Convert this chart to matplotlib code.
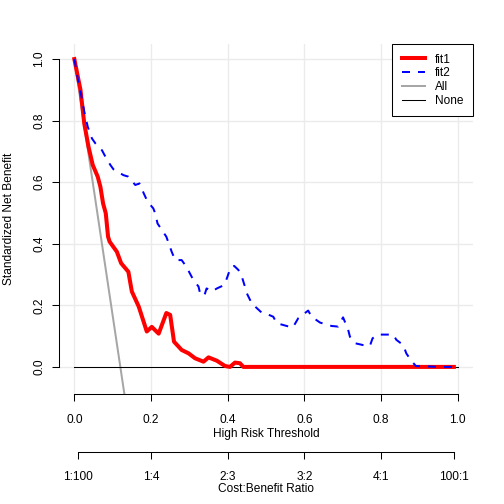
import matplotlib
matplotlib.use("Agg")
import matplotlib.pyplot as plt
import numpy as np

plt.rcParams['font.family'] = ['Liberation Sans', 'DejaVu Sans']

# thresholds / standardized net benefit
fit1_t = [0.0, 0.016, 0.026, 0.037, 0.048, 0.061, 0.068, 0.075, 0.082, 0.088, 0.092,
          0.111, 0.122, 0.141, 0.150, 0.168, 0.189, 0.202, 0.220, 0.240, 0.250,
          0.260, 0.280, 0.298, 0.315, 0.337, 0.350, 0.372, 0.393, 0.406, 0.419,
          0.432, 0.441, 0.6, 0.8, 0.99]
fit1_v = [1.0, 0.90, 0.79, 0.715, 0.656, 0.618, 0.585, 0.531, 0.499, 0.423, 0.407,
          0.374, 0.337, 0.309, 0.245, 0.196, 0.115, 0.130, 0.108, 0.175, 0.169,
          0.082, 0.055, 0.044, 0.028, 0.017, 0.031, 0.020, 0.003, 0.0, 0.014,
          0.012, 0.0, 0.0, 0.0, 0.0]

fit2_t = [0.0, 0.009, 0.017, 0.026, 0.035, 0.046, 0.055, 0.072, 0.081, 0.094, 0.102,
          0.128, 0.141, 0.159, 0.170, 0.181, 0.191, 0.206, 0.211, 0.217, 0.224,
          0.240, 0.246, 0.254, 0.263, 0.280, 0.292, 0.306, 0.311, 0.324, 0.328,
          0.339, 0.345, 0.359, 0.372, 0.391, 0.398, 0.408, 0.417, 0.428, 0.437,
          0.445, 0.450, 0.463, 0.489, 0.502, 0.519, 0.528, 0.554, 0.570, 0.584,
          0.610, 0.619, 0.641, 0.671, 0.688, 0.701, 0.714, 0.719, 0.732, 0.753,
          0.771, 0.778, 0.792, 0.814, 0.832, 0.840, 0.858, 0.866, 0.879, 0.891,
          0.95, 0.99]
fit2_v = [1.0, 0.937, 0.889, 0.829, 0.780, 0.742, 0.726, 0.704, 0.683, 0.656, 0.642,
          0.623, 0.618, 0.591, 0.596, 0.564, 0.537, 0.515, 0.499, 0.466, 0.453,
          0.423, 0.402, 0.374, 0.347, 0.347, 0.326, 0.293, 0.282, 0.261, 0.239,
          0.231, 0.255, 0.245, 0.255, 0.266, 0.288, 0.324, 0.328, 0.315, 0.293,
          0.261, 0.239, 0.206, 0.176, 0.172, 0.163, 0.142, 0.133, 0.128, 0.158,
          0.183, 0.163, 0.144, 0.133, 0.131, 0.161, 0.122, 0.098, 0.077, 0.071,
          0.068, 0.093, 0.105, 0.105, 0.105, 0.088, 0.071, 0.044, 0.020, 0.003,
          0.0, 0.0]

all_t = [0.0, 0.132]
all_v = [1.0, -0.10]
none_t = [0.0, 1.0]
none_v = [0.0, 0.0]

x_ticks = [0.0, 0.2, 0.4, 0.6, 0.8, 1.0]
y_ticks = [0.0, 0.2, 0.4, 0.6, 0.8, 1.0]
cb_ticks = [1 / 101, 0.2, 0.4, 0.6, 0.8, 100 / 101]
cb_labels = ['1:100', '1:4', '2:3', '3:2', '4:1', '100:1']

W = H = 504
fig = plt.figure(figsize=(5.04, 5.04), dpi=100)
L, R, T, B = 59, 473, 44, 394
ax = fig.add_axes([L / W, (H - B) / H, (R - L) / W, (B - T) / H])
ax.set_xlim(-0.04, 1.04)
ax.set_ylim(-0.088, 1.049)

for g in x_ticks:
    ax.axvline(g, color='#EBEBEB', lw=1.0, zorder=0)
for g in y_ticks:
    ax.axhline(g, color='#EBEBEB', lw=1.0, zorder=0)

ax.plot(all_t, all_v, color='#A6A6A6', lw=1.44, label='All', zorder=2)
ax.plot(none_t, none_v, color='black', lw=0.75, label='None', zorder=2)
ax.plot(fit1_t, fit1_v, color='red', lw=2.9, label='fit1', zorder=3,
        solid_joinstyle='round')
ax.plot(fit2_t, fit2_v, color='blue', lw=1.44, ls=(0, (4, 4)), label='fit2', zorder=4)

for s in ['top', 'right']:
    ax.spines[s].set_visible(False)
ax.spines['left'].set_bounds(0, 1)
ax.spines['bottom'].set_bounds(0, 1)
ax.spines['left'].set_linewidth(0.75)
ax.spines['bottom'].set_linewidth(0.75)
ax.set_xticks(x_ticks)
ax.set_xticklabels(['%.1f' % v for v in x_ticks])
ax.set_yticks(y_ticks)
ax.set_yticklabels(['%.1f' % v for v in y_ticks], rotation=90, va='center')
ax.tick_params(direction='out', length=5, width=0.75, labelsize=8.6)
ax.tick_params(axis='x', pad=9.5)
ax.tick_params(axis='y', pad=5)

ax.set_xlabel('High Risk Threshold', fontsize=8.6, va='center')
ax.xaxis.set_label_coords(0.5, -(434 - B) / (B - T))
ax.set_ylabel('Standardized Net Benefit', fontsize=8.6, va='center')
ax.yaxis.set_label_coords(-(L - 9) / (R - L), 0.5)

h, lab = ax.get_legend_handles_labels()
order = [lab.index(n) for n in ['fit1', 'fit2', 'All', 'None']]
leg = ax.legend([h[i] for i in order], [lab[i] for i in order],
                loc='upper right', bbox_to_anchor=(1.0, 1.0), borderaxespad=0,
                fontsize=8.6, fancybox=False, framealpha=1, edgecolor='black',
                handlelength=2.0, handletextpad=0.8, labelspacing=0.15,
                borderpad=0.8)
leg.get_frame().set_linewidth(0.75)

# cost:benefit axis
ax2 = fig.add_axes([L / W, (H - 452) / H, (R - L) / W, 0.0001])
ax2.set_xlim(-0.04, 1.04)
ax2.patch.set_visible(False)
for s in ['top', 'right', 'left']:
    ax2.spines[s].set_visible(False)
ax2.spines['bottom'].set_bounds(cb_ticks[0], cb_ticks[-1])
ax2.spines['bottom'].set_linewidth(0.75)
ax2.set_yticks([])
ax2.set_xticks(cb_ticks)
ax2.set_xticklabels(cb_labels)
ax2.tick_params(direction='out', length=5, width=0.75, labelsize=8.6, pad=9)
fig.text(((L + R) / 2) / W, (H - 489) / H, 'Cost:Benefit Ratio', fontsize=8.6,
         ha='center', va='center')

fig.savefig('out.png', dpi=100)
